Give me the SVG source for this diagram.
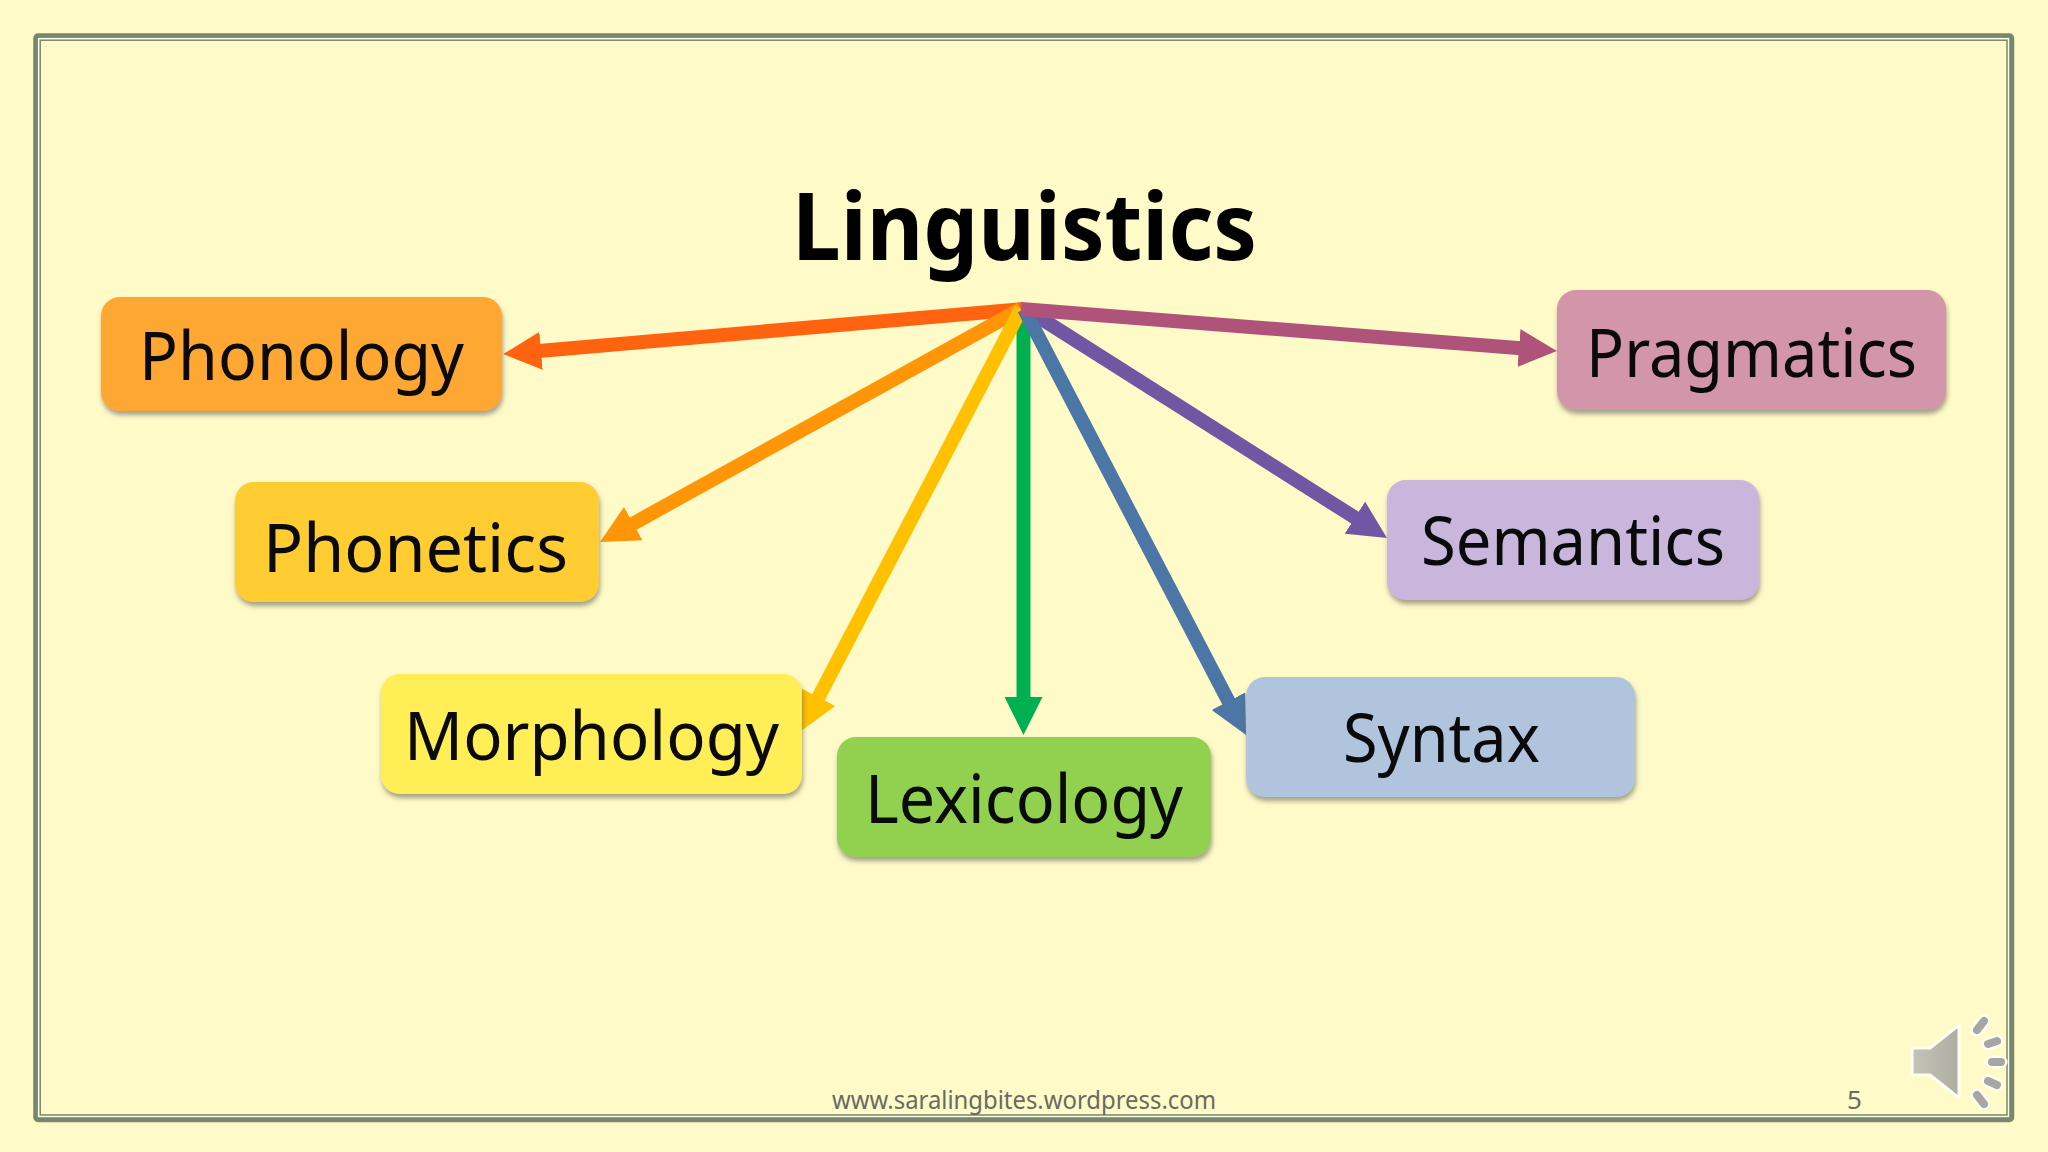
<svg xmlns="http://www.w3.org/2000/svg" width="2048" height="1152" viewBox="0 0 2048 1152">
<style>
.box{filter:url(#sh)}
.lab{font-family:"Noto Sans","Open Sans",sans-serif;font-size:68px;fill:#0a0a0a}
.foot{font-family:"Noto Sans","Open Sans",sans-serif;font-size:26px;fill:#6a6a62}
.c{fill:none;stroke-width:14}
.bar{stroke:#fffff0;stroke-width:13;stroke-linecap:round;fill:none}
.bar2{stroke:#a8a6a4;stroke-width:8;stroke-linecap:round;fill:none}
</style>
<defs>
<filter id="sh" x="-10%" y="-15%" width="120%" height="135%"><feDropShadow dx="1" dy="4" stdDeviation="2.5" flood-color="#555" flood-opacity="0.55"/></filter>
<linearGradient id="sp" x1="0" y1="0" x2="1" y2="0"><stop offset="0" stop-color="#c4c4b6"/><stop offset="1" stop-color="#adada6"/></linearGradient>
<marker id="m1" markerUnits="userSpaceOnUse" markerWidth="40" markerHeight="38" refX="2" refY="19" orient="auto"><path d="M0,0L38,19L0,38Z" fill="#FF6310"/></marker>
<marker id="m2" markerUnits="userSpaceOnUse" markerWidth="40" markerHeight="38" refX="2" refY="19" orient="auto"><path d="M0,0L38,19L0,38Z" fill="#FF9507"/></marker>
<marker id="m3" markerUnits="userSpaceOnUse" markerWidth="40" markerHeight="38" refX="2" refY="19" orient="auto"><path d="M0,0L38,19L0,38Z" fill="#FFC000"/></marker>
<marker id="m4" markerUnits="userSpaceOnUse" markerWidth="40" markerHeight="38" refX="2" refY="19" orient="auto"><path d="M0,0L38,19L0,38Z" fill="#00B050"/></marker>
<marker id="m5" markerUnits="userSpaceOnUse" markerWidth="40" markerHeight="38" refX="2" refY="19" orient="auto"><path d="M0,0L38,19L0,38Z" fill="#4C76A5"/></marker>
<marker id="m6" markerUnits="userSpaceOnUse" markerWidth="40" markerHeight="38" refX="2" refY="19" orient="auto"><path d="M0,0L38,19L0,38Z" fill="#7157A3"/></marker>
<marker id="m7" markerUnits="userSpaceOnUse" markerWidth="40" markerHeight="38" refX="2" refY="19" orient="auto"><path d="M0,0L38,19L0,38Z" fill="#B0537A"/></marker>
</defs>
<rect width="2048" height="1152" fill="#FFFBC8"/>
<g id="frame" fill="none">
<rect x="36" y="36" width="1975.500" height="1083.500" rx="2" stroke="#78866B" stroke-width="5.500"/>
<rect x="38.800" y="38.800" width="1969.500" height="1077.500" stroke="#FFFFF0" stroke-width="1.800"/>
<rect x="40.200" y="40.200" width="1966.800" height="1074.800" stroke="#78866B" stroke-width="1.500"/>
</g>
<text id="title" x="792" y="260" textLength="465" lengthAdjust="spacingAndGlyphs" style="font-family:'Noto Sans','Open Sans',sans-serif;font-weight:700;font-size:93px;fill:#000">Linguistics</text>
<g id="connectors">
<line class="c" x1="1023" y1="309" x2="539" y2="351" stroke="#FF6310" marker-end="url(#m1)"/>
<line class="c" x1="1021" y1="309" x2="631.500" y2="524.500" stroke="#FF9507" marker-end="url(#m2)"/>
<line class="c" x1="1023.500" y1="312" x2="1023.500" y2="699" stroke="#00B050" marker-end="url(#m4)"/>
<line class="c" x1="1021" y1="309" x2="817.600" y2="699" stroke="#FFC000" marker-end="url(#m3)"/>
<line class="c" x1="1026" y1="309" x2="1356.600" y2="518.700" stroke="#7157A3" marker-end="url(#m6)"/>
<line class="c" x1="1024" y1="309" x2="1229.400" y2="703" stroke="#4C76A5" marker-end="url(#m5)"/>
<line class="c" x1="1021" y1="309" x2="1521" y2="348.200" stroke="#B0537A" marker-end="url(#m7)"/>
</g>
<g id="phonology"><rect class="box" x="101" y="297" width="401" height="114" rx="19" fill="#FFA733"/><text class="lab" x="139" y="380" textLength="325" lengthAdjust="spacingAndGlyphs">Phonology</text></g>
<g id="phonetics"><rect class="box" x="235" y="482" width="364" height="120" rx="19" fill="#FFCC33"/><text class="lab" x="263" y="572" textLength="305" lengthAdjust="spacingAndGlyphs">Phonetics</text></g>
<g id="morphology"><rect class="box" x="381" y="674" width="421" height="120" rx="19" fill="#FFEE55"/><text class="lab" x="404" y="760" textLength="375" lengthAdjust="spacingAndGlyphs">Morphology</text></g>
<g id="lexicology"><rect class="box" x="837" y="737" width="374" height="120" rx="19" fill="#92D050"/><text class="lab" x="865" y="823" textLength="318" lengthAdjust="spacingAndGlyphs">Lexicology</text></g>
<g id="syntax"><rect class="box" x="1246" y="677" width="389" height="120" rx="19" fill="#B0C4DE"/><text class="lab" x="1343" y="762" textLength="197" lengthAdjust="spacingAndGlyphs">Syntax</text></g>
<g id="semantics"><rect class="box" x="1387" y="480" width="372" height="120" rx="19" fill="#C8B6DC"/><text class="lab" x="1421" y="565" textLength="304" lengthAdjust="spacingAndGlyphs">Semantics</text></g>
<g id="pragmatics"><rect class="box" x="1557" y="290" width="389" height="120" rx="19" fill="#D295A9"/><text class="lab" x="1586" y="377" textLength="331" lengthAdjust="spacingAndGlyphs">Pragmatics</text></g>
<text class="foot" id="footer" x="832" y="1109" textLength="384" lengthAdjust="spacingAndGlyphs">www.saralingbites.wordpress.com</text>
<text class="foot" id="page" x="1847" y="1109">5</text>
<g id="speaker">
<path d="M1912,1048H1930L1959,1025V1098L1930,1075H1912Z" fill="url(#sp)" stroke="#FFFFF0" stroke-width="3" stroke-linejoin="round"/>
<path class="bar" d="M1977,1030L1984,1021M1988,1044L1997,1041M1992,1062H2001M1988,1081L1997,1085M1977,1095L1984,1104"/>
<path class="bar2" d="M1977,1030L1984,1021M1988,1044L1997,1041M1992,1062H2001M1988,1081L1997,1085M1977,1095L1984,1104"/>
</g>
</svg>
